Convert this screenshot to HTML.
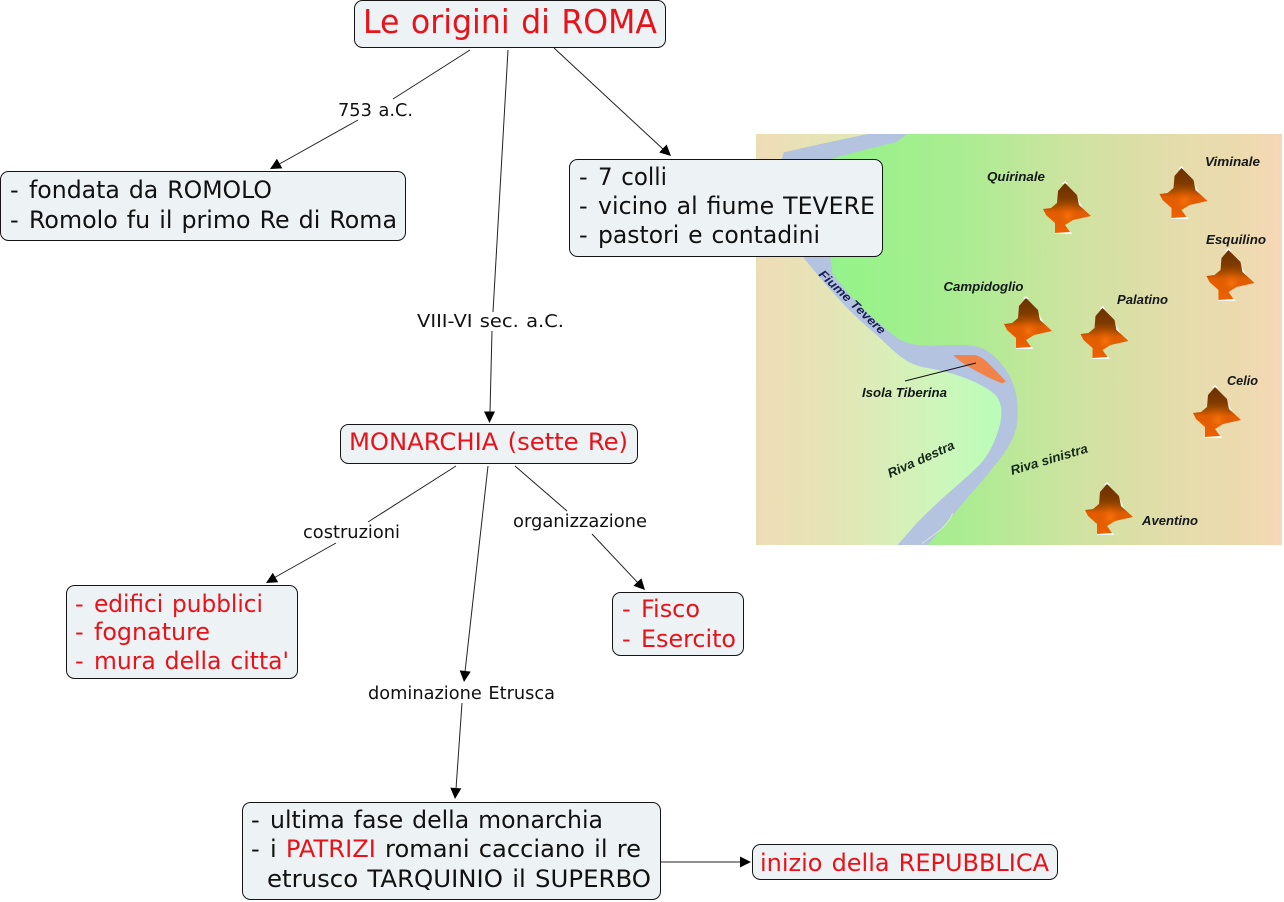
<!DOCTYPE html>
<html lang="it"><head><meta charset="utf-8"><title>Le origini di ROMA</title>
<style>
html,body{margin:0;padding:0;background:#fff}
svg{display:block}
.n{font-family:"DejaVu Sans","Liberation Sans",sans-serif;font-size:24px;fill:#111;word-spacing:1.5px}
.r{fill:#e8121a}
.l{font-family:"DejaVu Sans","Liberation Sans",sans-serif;font-size:18px;fill:#111;word-spacing:1px}
.m{font-family:"Liberation Sans",sans-serif;font-size:13px;font-weight:bold;font-style:italic;fill:#14181a}
.b{fill:#edf3f5;stroke:#151515;stroke-width:1}
.c{stroke:#222;stroke-width:1;fill:none}
</style></head><body>
<svg width="1284" height="902" viewBox="0 0 1284 902" xmlns="http://www.w3.org/2000/svg">
<defs>
<linearGradient id="gr" x1="0" x2="1" y1="0" y2="0">
<stop offset="0" stop-color="#8ef08c"/><stop offset=".2" stop-color="#98f28a"/><stop offset=".4" stop-color="#acec92"/><stop offset=".6" stop-color="#cee3a0"/><stop offset=".8" stop-color="#e4dcab"/><stop offset=".94" stop-color="#eedab0"/><stop offset="1" stop-color="#f8d6b8"/>
</linearGradient>
<linearGradient id="gl" x1="0" x2="1" y1="0" y2="0">
<stop offset="0" stop-color="#efdcb6"/><stop offset=".35" stop-color="#e3e6b6"/><stop offset=".75" stop-color="#cdf6ba"/><stop offset="1" stop-color="#b9fcb8"/>
</linearGradient>
<linearGradient id="hl" x1="0" x2="0" y1="0" y2="1">
<stop offset="0" stop-color="#6a3000"/><stop offset=".3" stop-color="#7e3a00"/><stop offset=".46" stop-color="#a84c00"/><stop offset=".58" stop-color="#e25c00"/><stop offset="1" stop-color="#ee6000"/>
</linearGradient>
<radialGradient id="hr" cx=".52" cy=".66" r=".3">
<stop offset="0" stop-color="#ff7a10" stop-opacity=".7"/><stop offset="1" stop-color="#c85000" stop-opacity="0"/>
</radialGradient>
<clipPath id="mapc"><rect x="756" y="134" width="526" height="411"/></clipPath>
<g id="hill">
<polygon points="0,-2 3,1 -3,1" fill="#fff"/>
<polygon points="12,14 16,22 19,28 14,24" fill="#fff"/>
<polygon points="-10,49 6,49 7,51 -10,51" fill="#fff"/>
<polygon points="0,0 12,12 14,22 26,33 8,37 0,42 5,49 -10,50 -10,40 -19,32 -22,26 -14,25 -8,20 -7,8" fill="url(#hl)"/>
<polygon points="0,0 12,12 14,22 26,33 8,37 0,42 5,49 -10,50 -10,40 -19,32 -22,26 -14,25 -8,20 -7,8" fill="url(#hr)"/>
</g>
</defs>

<!-- map -->
<rect x="756" y="134" width="526" height="411" fill="url(#gr)"/>
<g clip-path="url(#mapc)">
<g transform="translate(750,130) scale(.3406,.3333)">
<path fill="url(#gl)" d="M18,12 L350,12 L200,45 L100,68 L95,85 L130,300 L160,385 L190,422 Q220,460 260,505 Q300,550 342,587 Q385,625 412,652 Q440,680 465,694 Q490,708 525,714 Q560,720 600,732 Q640,745 670,760 Q700,775 719,792 Q738,810 739,845 Q740,880 720,930 Q700,980 670,1010 Q640,1040 600,1075 Q560,1110 525,1145 L490,1180 L435,1245 L18,1245 Z"/>
<path fill="#b3c3e0" stroke="#b3c3e0" stroke-width="2" d="M350,12 L460,12 L430,35 L330,60 L240,85 L200,200 L235,380 L240,430 Q300,510 350,555 Q400,600 425,620 Q450,640 485,645 Q520,650 560,647 Q600,645 640,647 Q680,650 705,670 Q730,690 750,720 Q770,750 777,780 Q785,810 785,850 Q785,890 772,920 Q760,950 730,990 Q700,1030 670,1065 Q640,1100 615,1130 L590,1160 L520,1245 L435,1245 L490,1180 L525,1145 Q560,1110 600,1075 Q640,1040 670,1010 Q700,980 720,930 Q740,880 739,845 Q738,810 719,792 Q700,775 670,760 Q640,745 600,732 Q560,720 525,714 Q490,708 465,694 Q440,680 412,652 Q385,625 342,587 Q300,550 260,505 Q220,460 190,422 L160,385 L130,300 L95,85 L100,68 L200,45 Z"/>
<path fill="#f0824a" d="M597,675 L660,675 Q680,680 695,695 Q725,725 752,755 L740,760 Q700,745 650,715 Q615,695 597,675 Z"/>
<path d="M595,1150 C580,1190 540,1215 505,1240" fill="none" stroke="#e8f4d8" stroke-width="2"/>
</g>
</g>
<line x1="905" y1="381" x2="976" y2="363" stroke="#111" stroke-width="1"/>
<use href="#hill" x="1065" y="183"/>
<use href="#hill" x="1181.5" y="168"/>
<use href="#hill" x="1228.5" y="250"/>
<use href="#hill" x="1026" y="298"/>
<use href="#hill" x="1102.5" y="308"/>
<use href="#hill" x="1215" y="387"/>
<use href="#hill" x="1107" y="484"/>
<text class="m" x="987" y="181" textLength="58" lengthAdjust="spacingAndGlyphs">Quirinale</text>
<text class="m" x="1205" y="166" textLength="55" lengthAdjust="spacingAndGlyphs">Viminale</text>
<text class="m" x="1206" y="244" textLength="60" lengthAdjust="spacingAndGlyphs">Esquilino</text>
<text class="m" x="943.5" y="291" textLength="80" lengthAdjust="spacingAndGlyphs">Campidoglio</text>
<text class="m" x="1117" y="304" textLength="51" lengthAdjust="spacingAndGlyphs">Palatino</text>
<text class="m" x="1227" y="385" textLength="31" lengthAdjust="spacingAndGlyphs">Celio</text>
<text class="m" x="1142" y="525" textLength="56" lengthAdjust="spacingAndGlyphs">Aventino</text>
<text class="m" x="862" y="397" textLength="85" lengthAdjust="spacingAndGlyphs">Isola Tiberina</text>
<text class="m" transform="translate(818,275) rotate(43.6)" textLength="87" lengthAdjust="spacingAndGlyphs" style="fill:#1a2050;font-size:12px">Fiume Tevere</text>
<text class="m" transform="translate(890,478) rotate(-24.4)" textLength="72" lengthAdjust="spacingAndGlyphs" style="fill:#14281a">Riva destra</text>
<text class="m" transform="translate(1012,475) rotate(-16.6)" textLength="80" lengthAdjust="spacingAndGlyphs" style="fill:#14281a">Riva sinistra</text>

<!-- connectors -->
<path class="c" d="M470,50 L393,99 M358,120 L274,167"/>
<path class="c" d="M508,50 L493,312 M492,331 L490,412"/>
<path class="c" d="M554,48 L664,150"/>
<path class="c" d="M456,466 L368,522 M336,543 L272,579"/>
<path class="c" d="M488,466 L465,672"/>
<path class="c" d="M515,466 L567,511 M592,534 L639,584"/>
<path class="c" d="M462,703 L456,789"/>
<path class="c" d="M660,862 L741,862"/>
<g fill="#000">
<polygon points="270,169 282.3,168.4 276.9,158.8"/>
<polygon points="489.5,423 484,411.5 495,411.5"/>
<polygon points="671,156 666.6,144.5 659.2,152.5"/>
<polygon points="266,583 278.2,582.3 272.8,572.7"/>
<polygon points="645,590 641.4,578.2 633.4,585.8"/>
<polygon points="464,682 470.7,671.6 459.7,670.4"/>
<polygon points="455,799 461.3,788.4 450.3,787.6"/>
<polygon points="751,862 740,856.5 740,867.5"/>
</g>

<!-- connector labels -->
<text class="l" x="338" y="116" textLength="75" lengthAdjust="spacingAndGlyphs">753 a.C.</text>
<text class="l" x="417" y="327" textLength="147" lengthAdjust="spacingAndGlyphs">VIII-VI sec. a.C.</text>
<text class="l" x="303" y="538" textLength="97" lengthAdjust="spacingAndGlyphs">costruzioni</text>
<text class="l" x="513" y="527" textLength="134" lengthAdjust="spacingAndGlyphs">organizzazione</text>
<text class="l" x="368" y="699" textLength="187" lengthAdjust="spacingAndGlyphs">dominazione Etrusca</text>

<!-- nodes -->
<rect class="b" x="354.5" y="0.5" width="311" height="47" rx="8"/>
<text class="n r" x="363" y="33" style="font-size:33px" textLength="294" lengthAdjust="spacingAndGlyphs">Le origini di ROMA</text>

<rect class="b" x="0.5" y="171.5" width="405" height="69" rx="8"/>
<text class="n" x="10" y="198">-</text><text class="n" x="29" y="198" textLength="243" lengthAdjust="spacingAndGlyphs">fondata da ROMOLO</text>
<text class="n" x="10" y="228">-</text><text class="n" x="29" y="228" textLength="368" lengthAdjust="spacingAndGlyphs">Romolo fu il primo Re di Roma</text>

<rect class="b" x="569.5" y="159.5" width="313" height="97" rx="8"/>
<text class="n" x="579" y="185">-</text><text class="n" x="598" y="185" textLength="69" lengthAdjust="spacingAndGlyphs">7 colli</text>
<text class="n" x="579" y="214">-</text><text class="n" x="598" y="214" textLength="277" lengthAdjust="spacingAndGlyphs">vicino al fiume TEVERE</text>
<text class="n" x="579" y="243">-</text><text class="n" x="598" y="243" textLength="222" lengthAdjust="spacingAndGlyphs">pastori e contadini</text>

<rect class="b" x="340.5" y="424.5" width="297" height="39" rx="8"/>
<text class="n r" x="349" y="450" textLength="279" lengthAdjust="spacingAndGlyphs">MONARCHIA (sette Re)</text>

<rect class="b" x="66.5" y="585.5" width="231" height="93" rx="8"/>
<text class="n r" x="75" y="612">-</text><text class="n r" x="94" y="612" textLength="169" lengthAdjust="spacingAndGlyphs">edifici pubblici</text>
<text class="n r" x="75" y="640">-</text><text class="n r" x="94" y="640" textLength="116" lengthAdjust="spacingAndGlyphs">fognature</text>
<text class="n r" x="75" y="669">-</text><text class="n r" x="94" y="669" textLength="195" lengthAdjust="spacingAndGlyphs">mura della citta'</text>

<rect class="b" x="612.5" y="592.5" width="131" height="63" rx="8"/>
<text class="n r" x="622" y="617">-</text><text class="n r" x="641" y="617" textLength="59" lengthAdjust="spacingAndGlyphs">Fisco</text>
<text class="n r" x="622" y="647">-</text><text class="n r" x="641" y="647" textLength="95" lengthAdjust="spacingAndGlyphs">Esercito</text>

<rect class="b" x="242.5" y="802.5" width="418" height="97" rx="8"/>
<text class="n" x="251" y="828">-</text><text class="n" x="270" y="828" textLength="333" lengthAdjust="spacingAndGlyphs">ultima fase della monarchia</text>
<text class="n" x="251" y="857">-</text><text class="n" x="270" y="857" textLength="371" lengthAdjust="spacingAndGlyphs">i <tspan class="r">PATRIZI</tspan> romani cacciano il re</text>
<text class="n" x="267" y="887" textLength="384" lengthAdjust="spacingAndGlyphs">etrusco TARQUINIO il SUPERBO</text>

<rect class="b" x="752.5" y="844.5" width="305" height="35" rx="8"/>
<text class="n r" x="760" y="871" textLength="289" lengthAdjust="spacingAndGlyphs">inizio della REPUBBLICA</text>
</svg>
</body></html>
